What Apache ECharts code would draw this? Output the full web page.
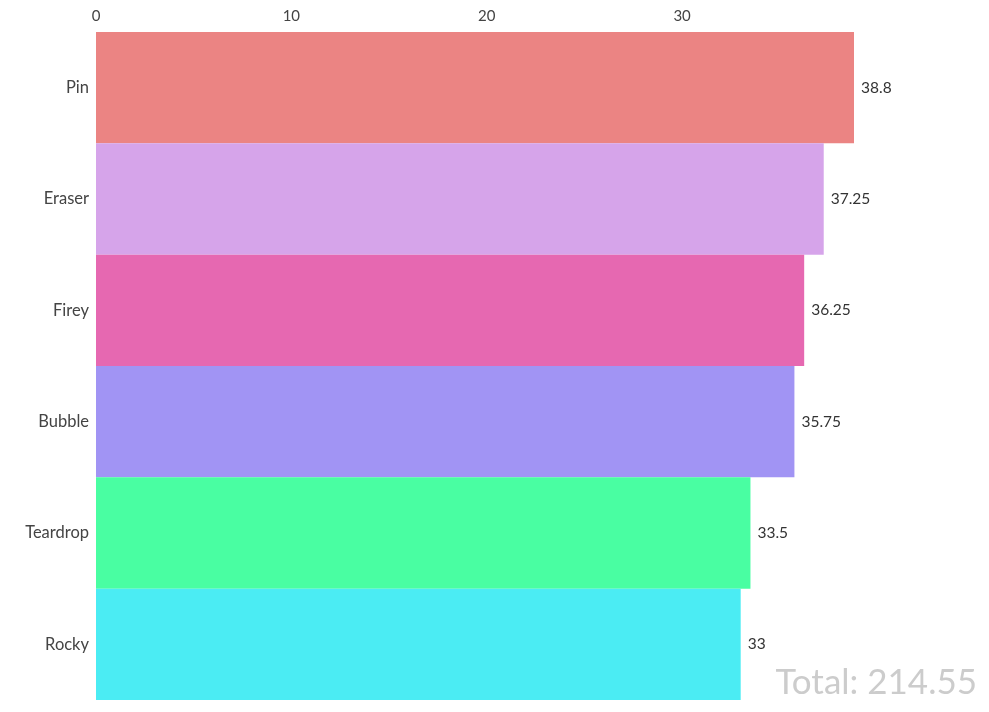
<!DOCTYPE html>
<html>
<head>
<meta charset="utf-8">
<script src="https://cdn.jsdelivr.net/npm/echarts@6/dist/echarts.min.js"></script>
<style>html,body{margin:0;padding:0;background:#fff;}#c{width:989px;height:712px;}</style>
</head>
<body>
<div id="c"></div>
<script>
var categories = ['Pin', 'Eraser', 'Firey', 'Bubble', 'Teardrop', 'Rocky'];
var values = [38.8, 37.25, 36.25, 35.75, 33.5, 33];
var colors = ['#eb8483', '#d6a4ea', '#e668b1', '#a194f4', '#49fea2', '#4becf3'];
var tickLabels = [0, 10, 20, 30];

var total = values.reduce(function (a, b) { return a + b; }, 0);
var font = 'Lato, "Noto Sans", sans-serif';
var chart = echarts.init(document.getElementById('c'));
chart.setOption({
  animation: false,
  textStyle: { fontFamily: font },
  grid: { left: 96, right: 135, top: 32, bottom: 12, containLabel: false },
  xAxis: {
    type: 'value',
    position: 'top',
    min: 0,
    max: 'dataMax',
    interval: 10,
    axisLine: { show: false },
    axisTick: { show: false },
    splitLine: { show: false },
    axisLabel: {
      color: '#444', fontSize: 15, fontFamily: font, margin: 8,
      formatter: function (v) { return tickLabels.indexOf(v) >= 0 ? String(v) : ''; }
    }
  },
  yAxis: {
    type: 'category',
    inverse: true,
    data: categories,
    axisLine: { show: false },
    axisTick: { show: false },
    axisLabel: { color: '#444', fontSize: 16.5, fontFamily: font, margin: 7 }
  },
  series: [{
    type: 'bar',
    barCategoryGap: 0,
    data: values.map(function (v, i) {
      return { value: v, itemStyle: { color: colors[i] } };
    }),
    label: {
      show: true,
      position: 'right',
      distance: 7,
      color: '#333',
      fontSize: 15.5,
      fontFamily: font
    }
  }],
  graphic: [{
    type: 'text',
    right: 12,
    bottom: 12,
    style: {
      text: 'Total: ' + (Math.round(total * 100) / 100),
      fill: '#cccccc',
      fontSize: 35,
      fontFamily: font
    }
  }]
});
</script>
</body>
</html>
